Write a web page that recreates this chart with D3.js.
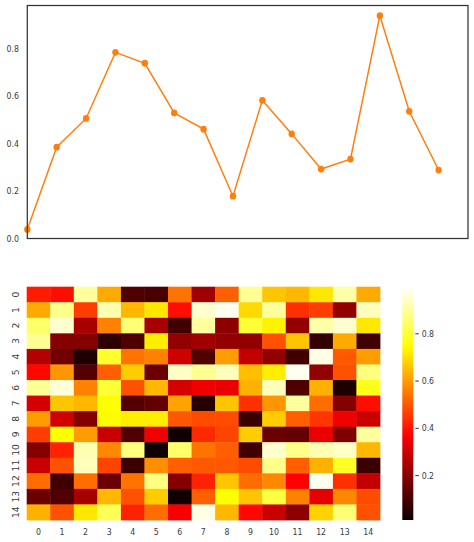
<!DOCTYPE html>
<html>
<head>
<meta charset="utf-8">
<script src="https://cdn.jsdelivr.net/npm/d3@7"></script>
<style>
  body { margin: 0; background: #fff; }
  text { font-family: "DejaVu Sans", sans-serif; font-size: 9.2px; fill: #3a3a3a; }
</style>
</head>
<body>
<svg width="474" height="542"></svg>
<script>
const svg = d3.select("svg");

// line series (x = 0..14)
const lineValues = [0.038, 0.384, 0.505, 0.783, 0.737, 0.528, 0.460, 0.178, 0.581, 0.440, 0.292, 0.334, 0.937, 0.535, 0.288];
const lineTicks = [0.0, 0.2, 0.4, 0.6, 0.8];

// heatmap rows / cols
const rowLabels = d3.range(15);
const colLabels = d3.range(15);
const heatValues = [
  [0.41, 0.39, 0.90, 0.62, 0.11, 0.10, 0.54, 0.23, 0.51, 0.89, 0.66, 0.64, 0.71, 0.91, 0.62],
  [0.62, 0.88, 0.46, 0.92, 0.64, 0.71, 0.39, 0.95, 0.98, 0.69, 0.90, 0.44, 0.46, 0.21, 0.93],
  [0.85, 0.95, 0.24, 0.56, 0.86, 0.24, 0.09, 0.90, 0.20, 0.80, 0.73, 0.21, 0.91, 0.95, 0.71],
  [0.89, 0.19, 0.19, 0.06, 0.11, 0.72, 0.21, 0.23, 0.21, 0.21, 0.49, 0.66, 0.07, 0.62, 0.09],
  [0.26, 0.16, 0.04, 0.79, 0.54, 0.56, 0.30, 0.11, 0.60, 0.28, 0.21, 0.09, 0.97, 0.50, 0.60],
  [0.38, 0.59, 0.12, 0.51, 0.67, 0.15, 0.94, 0.89, 0.93, 0.65, 0.72, 0.98, 0.21, 0.49, 0.87],
  [0.89, 0.96, 0.56, 0.80, 0.49, 0.64, 0.31, 0.35, 0.34, 0.63, 0.93, 0.11, 0.63, 0.04, 0.77],
  [0.31, 0.66, 0.64, 0.75, 0.12, 0.14, 0.61, 0.05, 0.66, 0.44, 0.59, 0.90, 0.53, 0.19, 0.39],
  [0.60, 0.30, 0.19, 0.74, 0.72, 0.72, 0.50, 0.48, 0.48, 0.08, 0.67, 0.51, 0.45, 0.35, 0.29],
  [0.46, 0.75, 0.60, 0.29, 0.11, 0.35, 0.02, 0.43, 0.47, 0.67, 0.15, 0.14, 0.34, 0.18, 0.90],
  [0.19, 0.42, 0.92, 0.57, 0.87, 0.02, 0.85, 0.54, 0.51, 0.09, 0.95, 0.88, 0.92, 0.94, 0.64],
  [0.29, 0.49, 0.93, 0.47, 0.08, 0.58, 0.51, 0.50, 0.50, 0.48, 0.88, 0.51, 0.63, 0.78, 0.08],
  [0.53, 0.09, 0.53, 0.15, 0.54, 0.87, 0.19, 0.42, 0.66, 0.53, 0.57, 0.37, 0.98, 0.44, 0.28],
  [0.15, 0.11, 0.24, 0.64, 0.49, 0.67, 0.02, 0.51, 0.75, 0.66, 0.81, 0.56, 0.33, 0.57, 0.48],
  [0.63, 0.49, 0.71, 0.83, 0.42, 0.53, 0.36, 0.97, 0.64, 0.38, 0.29, 0.20, 0.68, 0.86, 0.49]
];
const colorTicks = [0.2, 0.4, 0.6, 0.8];
const colorDomain = [0.01, 0.996];

// the figure looks squeezed horizontally, so text is narrowed a bit
const squeeze = 0.85;

// matplotlib "hot"
const hot = t => {
    t = Math.max(0, Math.min(1, t));
    const r = t < 0.365079 ? 0.0416 + (1 - 0.0416) * t / 0.365079 : 1;
    const g = t < 0.365079 ? 0 : t < 0.746032 ? (t - 0.365079) / (0.746032 - 0.365079) : 1;
    const b = t < 0.746032 ? 0 : (t - 0.746032) / (1 - 0.746032);
    return d3.rgb(r * 255, g * 255, b * 255).formatHex();
};
const colorNorm = d3.scaleLinear().domain(colorDomain).range([0, 1]).clamp(true);
const color = v => hot(colorNorm(v));

// ---------- line chart ----------
const lineX = d3.scaleLinear().domain([0, 15]).range([27.3, 468]);
const lineY = d3.scaleLinear().domain([0, 0.98]).range([238.5, 5.5]);

const lineG = svg.append('g');

lineG.append('g')
    .call(d3.axisLeft(lineY).tickValues(lineTicks).tickFormat(d3.format('.1f')).tickSize(0).tickPadding(9.8))
    .attr('transform', `translate(${lineX.range()[0]},0)`)
    .call(g => g.select('.domain').remove())
    .selectAll('text')
    .attr('fill', '#3a3a3a')
    .attr('font-size', null)
    .attr('font-family', null)
    .attr('transform', `scale(${squeeze},1)`);

lineG.append('path')
    .datum(lineValues)
    .attr('fill', 'none')
    .attr('stroke', '#ff7f0e')
    .attr('stroke-width', 1.5)
    .attr('d', d3.line().x((d, i) => lineX(i)).y(d => lineY(d)));

lineG.selectAll('ellipse').data(lineValues)
    .enter().append('ellipse')
    .attr('cx', (d, i) => lineX(i))
    .attr('cy', d => lineY(d))
    .attr('rx', 3.2)
    .attr('ry', 3.4)
    .attr('fill', '#ff7f0e');

lineG.append('rect')
    .attr('x', lineX.range()[0])
    .attr('y', lineY.range()[1])
    .attr('width', lineX.range()[1] - lineX.range()[0])
    .attr('height', lineY.range()[0] - lineY.range()[1])
    .attr('fill', 'none')
    .attr('stroke', '#333')
    .attr('stroke-width', 1.25);

// ---------- heatmap ----------
const hx = d3.scaleBand().domain(colLabels).range([26.7, 380]);
const hy = d3.scaleBand().domain(rowLabels).range([286.7, 520]);

const cells = [];
heatValues.forEach((row, r) => row.forEach((v, c) => cells.push({ r, c, v })));

svg.append('g').selectAll('rect').data(cells)
    .enter().append('rect')
    .attr('x', d => hx(d.c))
    .attr('y', d => hy(d.r))
    .attr('width', hx.bandwidth() + 0.4)
    .attr('height', hy.bandwidth() + 0.4)
    .attr('fill', d => color(d.v));

svg.append('g').selectAll('text').data(rowLabels)
    .enter().append('text')
    .attr('transform', d => `translate(18.6,${hy(d) + hy.bandwidth() / 2}) scale(${squeeze},1) rotate(-90)`)
    .attr('text-anchor', 'middle')
    .text(d => d);

svg.append('g').selectAll('text').data(colLabels)
    .enter().append('text')
    .attr('transform', d => `translate(${hx(d) + hx.bandwidth() / 2},535) scale(${squeeze},1)`)
    .attr('text-anchor', 'middle')
    .text(d => d);

// ---------- colorbar ----------
const cbX = 402.3, cbW = 11;
const cbY = d3.scaleLinear().domain(colorDomain).range([520, 287]);

const grad = svg.append('defs').append('linearGradient')
    .attr('id', 'hotgrad')
    .attr('x1', 0).attr('y1', 1).attr('x2', 0).attr('y2', 0);
d3.range(0, 1.0001, 0.02).forEach(t => {
    grad.append('stop').attr('offset', t).attr('stop-color', hot(t));
});

svg.append('rect')
    .attr('x', cbX)
    .attr('y', cbY.range()[1])
    .attr('width', cbW)
    .attr('height', cbY.range()[0] - cbY.range()[1])
    .attr('fill', 'url(#hotgrad)');

svg.append('g')
    .attr('transform', `translate(${cbX + cbW + 2},0)`)
    .call(d3.axisRight(cbY).tickValues(colorTicks).tickFormat(d3.format('.1f')).tickSize(3.5).tickPadding(4))
    .call(g => g.select('.domain').remove())
    .call(g => g.selectAll('line').attr('stroke', '#333'))
    .selectAll('text')
    .attr('fill', '#3a3a3a')
    .attr('font-size', null)
    .attr('font-family', null)
    .attr('transform', `scale(${squeeze},1)`);
</script>
</body>
</html>
